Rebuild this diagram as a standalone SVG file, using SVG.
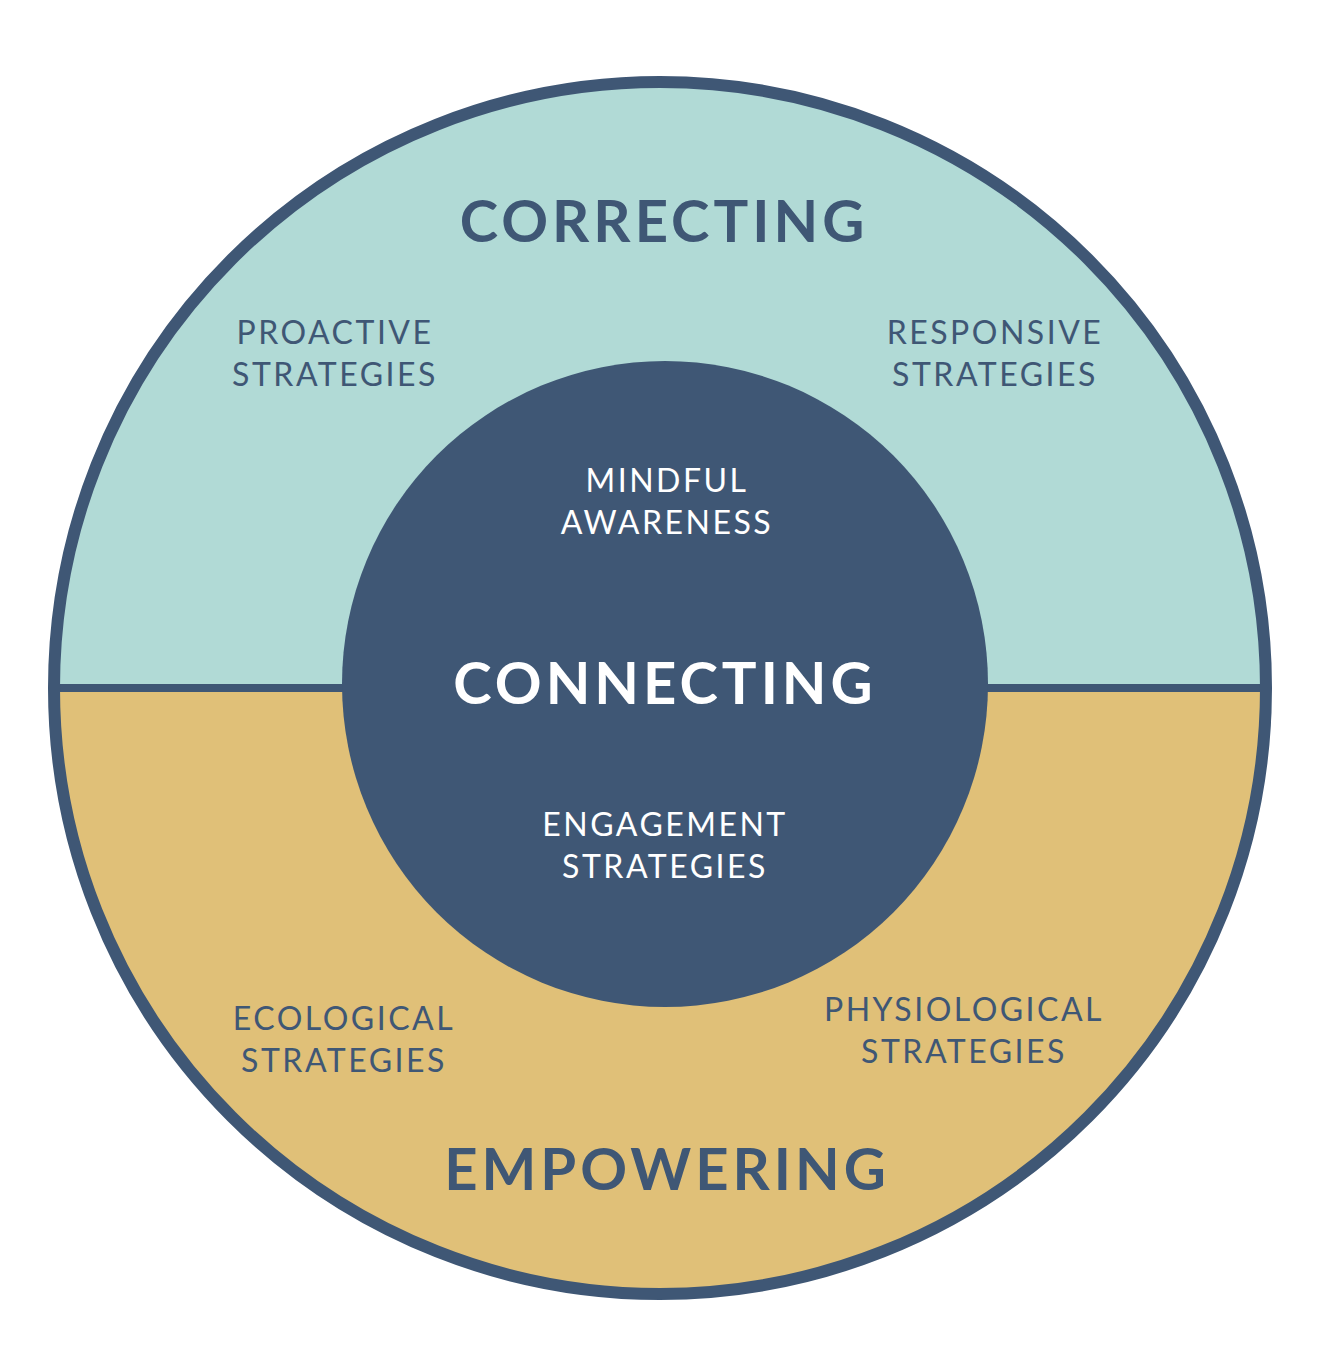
<svg xmlns="http://www.w3.org/2000/svg" width="1331" height="1369" viewBox="0 0 1331 1369">
<style>
.t{font-family:"Lato","Open Sans",sans-serif;fill:#3f5775;text-anchor:middle}
.s{font-size:32px;letter-spacing:2.5px}
.b{font-size:58px;font-weight:bold;letter-spacing:4px}
.w{fill:#fff}
</style>
<defs><clipPath id="c"><circle cx="660" cy="688" r="606"/></clipPath></defs>
<g id="outer">
<g clip-path="url(#c)">
<rect x="0" y="0" width="1331" height="688" fill="#b1dad6"/>
<rect x="0" y="688" width="1331" height="700" fill="#e0c078"/>
</g>
<line x1="54" y1="688" x2="1266" y2="688" stroke="#3f5775" stroke-width="8"/>
<circle cx="660" cy="688" r="606" fill="none" stroke="#3f5775" stroke-width="12"/>
</g>
<g id="inner"><circle cx="665" cy="684" r="323" fill="#3f5775"/></g>
<g id="labels">
<text class="t b" x="664" y="242">CORRECTING</text>
<text class="t b" x="667" y="1190">EMPOWERING</text>
<text class="t b w" x="665" y="704">CONNECTING</text>
<text class="t s" x="335" y="344">PROACTIVE</text>
<text class="t s" x="335" y="386">STRATEGIES</text>
<text class="t s" x="995" y="344">RESPONSIVE</text>
<text class="t s" x="995" y="386">STRATEGIES</text>
<text class="t s w" x="667" y="492">MINDFUL</text>
<text class="t s w" x="667" y="534">AWARENESS</text>
<text class="t s w" x="665" y="836">ENGAGEMENT</text>
<text class="t s w" x="665" y="878">STRATEGIES</text>
<text class="t s" x="344" y="1030">ECOLOGICAL</text>
<text class="t s" x="344" y="1072">STRATEGIES</text>
<text class="t s" x="964" y="1021">PHYSIOLOGICAL</text>
<text class="t s" x="964" y="1063">STRATEGIES</text>
</g>
</svg>
